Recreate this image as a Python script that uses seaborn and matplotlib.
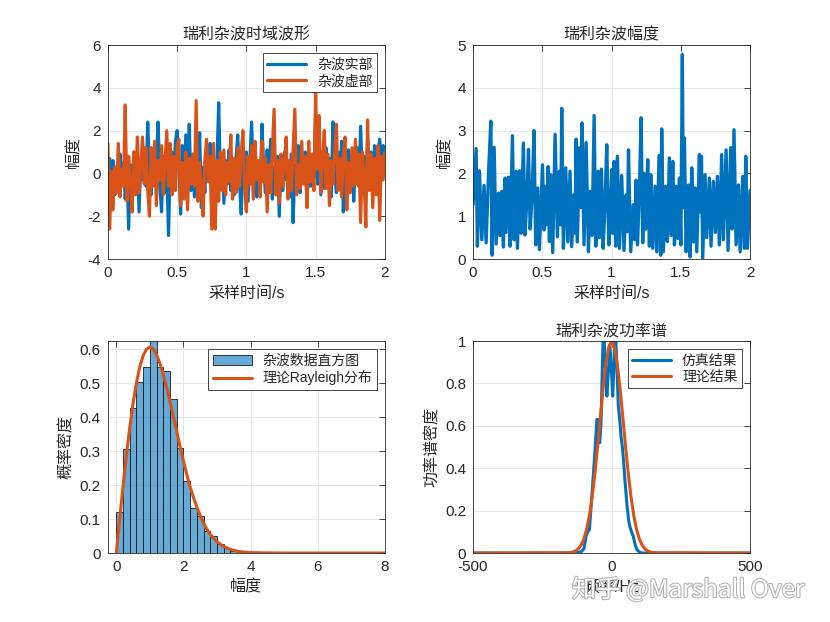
import numpy as np
import pandas as pd
import matplotlib
matplotlib.use("Agg")
import matplotlib.pyplot as plt
import matplotlib.patheffects as pe
import seaborn as sns

# ---- values ----

# complex clutter (real / imag), sampled every 0.0125 s over 0..2 s
t_iq = np.linspace(0, 2, 161)
clutter_re = [0.0, 0.7, -0.6, 0.6, -1.0, 0.3, -0.7, 0.9, -0.4, 0.5,
              -1.2, 0.2, -2.6, 0.4, -0.8, 1.0, -0.5, 0.8, -1.8, 0.6,
              -0.3, 1.2, -0.6, 2.4, 0.1, -1.0, 1.1, -0.4, 0.7, 2.4,
              -0.5, -1.8, 0.8, -0.9, 0.5, -2.9, 0.3, 1.0, -0.7, 1.5,
              2.0, 0.4, -1.9, 1.3, -0.6, 1.8, -0.3, 2.3, -0.8, 0.9,
              -1.1, 1.2, -0.4, 1.9, -1.6, 0.3, -0.9, 1.0, -0.2, 1.4,
              -0.7, 0.8, -1.2, 0.5, 3.3, -0.3, 0.9, -1.4, 0.6, -0.5,
              1.1, -0.8, 0.4, -1.0, 0.7, 1.8, -0.4, -1.9, 0.6, -0.6,
              1.0, -1.3, 0.5, 2.4, -0.2, 0.9, -1.1, 0.4, -0.7, 2.3,
              0.2, -0.9, 1.1, -0.5, 1.6, -1.2, 0.3, -0.6, 0.8, -2.0,
              0.5, -0.8, 1.0, -0.3, 0.6, -1.1, 0.9, -2.3, 0.4, -0.5,
              1.3, -0.9, 0.7, -0.4, 1.0, -1.4, 0.5, -0.6, 0.9, -0.2,
              2.9, -0.5, 0.8, -1.0, 0.6, -0.7, 1.2, -0.4, 0.7, -1.1,
              2.4, 0.1, -0.9, 1.0, -0.5, 1.5, -1.8, 0.6, -0.3, 1.1,
              -0.8, 0.9, -1.3, 0.4, 1.2, -0.6, 2.2, -0.4, 0.8, -1.0,
              1.5, -0.3, 1.0, -0.7, 1.3, 0.2, 0.9, 1.6, 0.4, 1.3, 0.6]
clutter_im = [1.4, -2.6, 0.1, -1.7, 0.3, -0.9, 1.4, -1.1, 0.2, -0.6,
              3.2, -1.3, 0.8, -0.4, -1.8, 1.0, -1.0, 1.7, -0.9, 0.4,
              1.7, -0.5, 1.2, -0.8, -2.0, 1.2, -0.6, 1.5, -1.5, 0.6,
              -0.3, 1.3, -1.0, 0.5, 2.0, -0.6, 1.4, -1.0, 0.8, -0.8,
              1.3, 1.6, -1.5, 0.5, -1.2, 1.0, -1.7, 0.7, -0.5, 0.9,
              -0.6, 3.4, -1.3, 0.5, -0.8, -2.0, 0.6, 1.6, -0.4, 0.8,
              -2.6, 1.4, -2.6, 0.6, -1.3, 1.0, -0.8, 1.1, -1.0, 0.5,
              -0.4, 1.8, -1.2, 0.7, -0.9, 1.2, -0.6, 0.9, 2.0, -0.7,
              -1.8, 0.8, -0.5, 1.3, -1.2, 1.5, -0.3, 0.6, -1.1, 1.5,
              -0.4, 0.7, -1.8, 0.4, -0.9, 1.0, 3.0, -1.0, 0.6, -1.4,
              0.9, -0.6, 0.5, 1.7, -1.2, 0.6, -0.8, 1.1, 3.0, -1.0,
              0.4, -0.7, 1.5, -0.5, 0.8, -1.6, 1.5, -0.4, 0.9, -0.8,
              3.75, 0.2, 2.7, -0.9, 0.6, 2.0, -0.7, 0.9, -1.5, 0.6,
              -0.5, 1.1, 2.3, -0.8, 0.7, -1.1, 0.8, 1.7, -1.7, 0.5,
              -0.9, 1.2, -0.6, 1.6, -0.5, 0.9, -2.3, 1.0, -0.4, -2.5,
              2.5, -0.8, 0.9, -1.6, 0.7, -1.0, 1.3, -2.2, 0.8, -0.3, 1.0]

# clutter amplitude, peaks and troughs
t_amp = [0.000, 0.022, 0.031, 0.046, 0.063, 0.079, 0.094, 0.111, 0.128, 0.137,
         0.152, 0.166, 0.183, 0.195, 0.207, 0.219, 0.229, 0.238, 0.255, 0.267,
         0.284, 0.296, 0.310, 0.320, 0.335, 0.347, 0.363, 0.375, 0.388, 0.400,
         0.412, 0.426, 0.440, 0.452, 0.467, 0.479, 0.501, 0.513, 0.525, 0.532,
         0.542, 0.551, 0.561, 0.575, 0.592, 0.609, 0.623, 0.633, 0.640, 0.652,
         0.669, 0.684, 0.700, 0.712, 0.729, 0.736, 0.744, 0.753, 0.768, 0.777,
         0.787, 0.801, 0.816, 0.833, 0.845, 0.859, 0.874, 0.886, 0.903, 0.912,
         0.927, 0.939, 0.953, 0.965, 0.980, 0.989,
         1.001, 1.008, 1.018, 1.030, 1.042, 1.057, 1.073, 1.090, 1.105, 1.114,
         1.122, 1.138, 1.158, 1.167, 1.177, 1.187, 1.201, 1.213, 1.225, 1.235,
         1.247, 1.261, 1.273, 1.283, 1.297, 1.314, 1.326, 1.343, 1.355, 1.362,
         1.374, 1.391, 1.403, 1.417, 1.430, 1.442, 1.454, 1.466, 1.478, 1.490,
         1.500, 1.511, 1.518, 1.526, 1.538, 1.555, 1.567, 1.579, 1.591, 1.603,
         1.615, 1.634, 1.641, 1.649, 1.658, 1.675, 1.687, 1.706, 1.718, 1.735,
         1.749, 1.764, 1.778, 1.795, 1.807, 1.827, 1.841, 1.860, 1.870, 1.884,
         1.899, 1.916, 1.928, 1.947, 1.959, 1.969, 1.981, 2.000]
amp = [1.27, 2.58, 0.30, 2.06, 0.45, 1.72, 0.38, 1.97, 3.22, 0.09,
       2.61, 0.35, 1.54, 0.55, 1.58, 0.28, 1.89, 0.62, 1.91, 0.30,
       2.88, 0.45, 2.05, 0.25, 2.06, 0.60, 2.71, 0.56, 1.40, 2.56,
       0.70, 1.50, 3.00, 0.33, 1.66, 0.22, 2.20, 0.68, 1.70, 0.80,
       2.16, 0.41, 1.97, 0.15, 2.91, 0.52, 2.05, 0.80, 3.52, 0.25,
       2.13, 0.40, 2.05, 0.29, 1.50, 0.60, 2.80, 0.40, 2.60, 1.20,
       3.18, 0.33, 2.72, 0.17, 1.58, 0.55, 3.35, 0.30, 2.05, 0.50,
       2.10, 0.25, 1.30, 2.67, 0.33, 0.90,
       2.09, 0.60, 2.28, 0.30, 2.40, 0.25, 1.95, 0.20, 1.50, 0.64,
       2.55, 0.17, 1.27, 0.45, 1.84, 0.33, 1.60, 3.30, 0.38, 2.00,
       0.70, 2.32, 0.30, 1.97, 0.25, 1.70, 0.17, 2.42, 0.09, 3.04,
       0.17, 1.70, 0.41, 2.36, 0.55, 2.28, 0.33, 1.70, 0.48, 1.89,
       0.33, 4.78, 1.20, 2.83, 0.17, 1.73, 0.05, 2.13, 0.40, 1.66,
       0.17, 2.44, 1.10, 2.40, 0.02, 1.97, 0.50, 1.89, 0.30, 1.81,
       0.62, 1.93, 0.33, 2.44, 0.45, 2.55, 0.20, 2.60, 0.70, 3.02,
       0.33, 1.73, 0.17, 1.93, 0.25, 2.40, 0.25, 1.60]

# amplitude histogram, bin width 0.2 (probability density)
hist_edges = [0.0, 0.2, 0.4, 0.6, 0.8, 1.0, 1.2, 1.4, 1.6, 1.8, 2.0, 2.2, 2.4,
              2.6, 2.8, 3.0, 3.2, 3.4, 3.6, 3.8, 4.0, 4.2, 4.4, 4.6, 4.8]
hist_density = [0.120, 0.306, 0.426, 0.502, 0.547, 0.640, 0.547, 0.536, 0.453, 0.309,
                0.213, 0.132, 0.108, 0.066, 0.049, 0.026, 0.015, 0.007, 0.003, 0.002,
                0.001, 0.000, 0.002, 0.000]

# theoretical Rayleigh curve
ray_x = [0, 0.1, 0.2, 0.3, 0.4, 0.5, 0.6, 0.7, 0.8, 0.9, 1.0, 1.1, 1.2, 1.3, 1.4,
         1.5, 1.6, 1.7, 1.8, 1.9, 2.0, 2.1, 2.2, 2.3, 2.4, 2.5, 2.6, 2.7, 2.8,
         2.9, 3.0, 3.2, 3.4, 3.6, 3.8, 4.0, 4.5, 5.0, 8.0]
ray_y = [0, 0.0995, 0.196, 0.287, 0.369, 0.441, 0.501, 0.548, 0.581, 0.600, 0.6065,
         0.601, 0.584, 0.558, 0.525, 0.487, 0.445, 0.402, 0.359, 0.313, 0.271,
         0.231, 0.195, 0.163, 0.135, 0.110, 0.088, 0.070, 0.055, 0.043, 0.033,
         0.019, 0.0105, 0.0055, 0.0028, 0.0013, 0.0002, 0, 0]

# power spectrum: simulated and theoretical
f_sim = [-500, -140, -110, -100, -92, -86, -80, -75, -68, -60, -53, -48, -43, -38,
         -33, -29, -23, -17, -12, -6, 0, 4, 9, 13, 18, 24, 30, 34, 39, 44, 49,
         56, 62, 67, 72, 78, 85, 92, 100, 110, 500]
psd_sim = [0, 0, 0.005, 0.02, 0.08, 0.10, 0.11, 0.20, 0.33, 0.48, 0.63, 0.63, 0.52,
           0.62, 0.90, 1.08, 0.90, 0.74, 0.85, 0.98, 0.85, 0.74, 0.90, 1.08, 0.92,
           0.70, 0.62, 0.55, 0.50, 0.42, 0.33, 0.22, 0.15, 0.12, 0.10, 0.08, 0.04,
           0.015, 0.005, 0, 0]
f_theory = [-500, -160, -150, -140, -130, -120, -110, -100, -90, -80, -70, -60, -50,
            -40, -30, -20, -10, 0, 10, 20, 30, 40, 50, 60, 70, 80, 90, 100, 110,
            120, 130, 140, 150, 160, 500]
psd_theory = [0, 0.001, 0.002, 0.005, 0.010, 0.020, 0.038, 0.067, 0.112, 0.177,
              0.266, 0.378, 0.509, 0.649, 0.784, 0.897, 0.973, 1.0, 0.973, 0.897,
              0.784, 0.649, 0.509, 0.378, 0.266, 0.177, 0.112, 0.067, 0.038, 0.020,
              0.010, 0.005, 0.002, 0.001, 0]

BLUE = "#0072BD"
ORANGE = "#D95319"

sns.set_style("white")
plt.rcParams["font.family"] = ["Liberation Sans", "Noto Sans CJK SC", "DejaVu Sans"]
plt.rcParams["axes.unicode_minus"] = False


def matlab_axes(ax):
    # MATLAB look: box, inward ticks on all sides, light grid
    ax.grid(True, color="#e2e2e2", lw=0.6)
    ax.set_axisbelow(True)
    ax.tick_params(direction="in", top=True, right=True, length=4, width=0.6,
                   labelsize=11, colors="#262626", pad=5)
    for s in ax.spines.values():
        s.set_color("#262626")
        s.set_linewidth(0.6)


def matlab_legend(ax, order=None):
    handles, labels = ax.get_legend_handles_labels()
    if order is not None:
        handles = [handles[labels.index(o)] for o in order]
        labels = list(order)
    leg = ax.legend(handles, labels, loc="upper right", fontsize=10, frameon=True,
                    fancybox=False, edgecolor="#262626", framealpha=1,
                    handlelength=2.8, borderaxespad=0.6, borderpad=0.3,
                    labelspacing=0.2)
    leg.get_frame().set_linewidth(0.6)


fig = plt.figure(figsize=(8.3, 6.22), dpi=100)
ax1 = fig.add_axes([0.130, 0.5836, 0.3337, 0.344])
ax2 = fig.add_axes([0.570, 0.5836, 0.3337, 0.344])
ax3 = fig.add_axes([0.130, 0.1109, 0.3337, 0.3408])
ax4 = fig.add_axes([0.570, 0.1109, 0.3337, 0.3408])

# time-domain waveform
sns.lineplot(x=t_iq, y=clutter_re, ax=ax1, color=BLUE, lw=2.3, label="杂波实部",
             sort=False, estimator=None)
sns.lineplot(x=t_iq, y=clutter_im, ax=ax1, color=ORANGE, lw=2.3, label="杂波虚部",
             sort=False, estimator=None)
ax1.set_xlim(0, 2)
ax1.set_ylim(-4, 6)
ax1.set_xticks([0, 0.5, 1, 1.5, 2])
ax1.set_xticklabels(["0", "0.5", "1", "1.5", "2"])
ax1.set_yticks([-4, -2, 0, 2, 4, 6])
ax1.set_title("瑞利杂波时域波形", fontsize=11.5, pad=4)
ax1.set_xlabel("采样时间/s", fontsize=11.5)
ax1.set_ylabel("幅度", fontsize=11.5)
matlab_axes(ax1)
matlab_legend(ax1)

# amplitude
sns.lineplot(x=t_amp, y=amp, ax=ax2, color=BLUE, lw=2.4, sort=False, estimator=None)
ax2.set_xlim(0, 2)
ax2.set_ylim(0, 5)
ax2.set_xticks([0, 0.5, 1, 1.5, 2])
ax2.set_xticklabels(["0", "0.5", "1", "1.5", "2"])
ax2.set_yticks([0, 1, 2, 3, 4, 5])
ax2.set_title("瑞利杂波幅度", fontsize=11.5, pad=4)
ax2.set_xlabel("采样时间/s", fontsize=11.5)
ax2.set_ylabel("幅度", fontsize=11.5)
matlab_axes(ax2)

# histogram + Rayleigh pdf
hist_df = pd.DataFrame({
    "mid": [(a + b) / 2 for a, b in zip(hist_edges[:-1], hist_edges[1:])],
    "density": hist_density,
})
sns.histplot(data=hist_df, x="mid", weights="density", bins=hist_edges, stat="count",
             color=BLUE, alpha=0.6, edgecolor="#1a1a1a", linewidth=0.6, ax=ax3,
             label="杂波数据直方图")
sns.lineplot(x=ray_x, y=ray_y, ax=ax3, color=ORANGE, lw=2.2, label="理论Rayleigh分布",
             sort=False, estimator=None)
ax3.set_xlim(-0.25, 8)
ax3.set_ylim(0, 0.624)
ax3.set_xticks([0, 2, 4, 6, 8])
ax3.set_yticks([0, 0.1, 0.2, 0.3, 0.4, 0.5, 0.6])
ax3.set_yticklabels(["0", "0.1", "0.2", "0.3", "0.4", "0.5", "0.6"])
ax3.set_xlabel("幅度", fontsize=11.5)
ax3.set_ylabel("概率密度", fontsize=11.5)
matlab_axes(ax3)
matlab_legend(ax3, order=["杂波数据直方图", "理论Rayleigh分布"])

# power spectrum
sns.lineplot(x=f_sim, y=psd_sim, ax=ax4, color=BLUE, lw=2.2, label="仿真结果",
             sort=False, estimator=None)
sns.lineplot(x=f_theory, y=psd_theory, ax=ax4, color=ORANGE, lw=2.2, label="理论结果",
             sort=False, estimator=None)
ax4.set_xlim(-500, 500)
ax4.set_ylim(0, 1)
ax4.set_xticks([-500, 0, 500])
ax4.set_yticks([0, 0.2, 0.4, 0.6, 0.8, 1])
ax4.set_yticklabels(["0", "0.2", "0.4", "0.6", "0.8", "1"])
ax4.set_title("瑞利杂波功率谱", fontsize=11.5, pad=4)
ax4.set_xlabel("频率/Hz", fontsize=11.5)
ax4.set_ylabel("功率谱密度", fontsize=11.5)
matlab_axes(ax4)
matlab_legend(ax4)

# site watermark in the corner (sits over the x label, as in the source image)
fig.text(0.689, 0.040, "知乎 @Marshall Over", fontsize=17.5, color="white",
         family=["Noto Sans CJK SC", "DejaVu Sans"],
         path_effects=[pe.withStroke(linewidth=1.5, foreground="#b0b0b0")])

fig.savefig("out.png", dpi=100, facecolor="white")
